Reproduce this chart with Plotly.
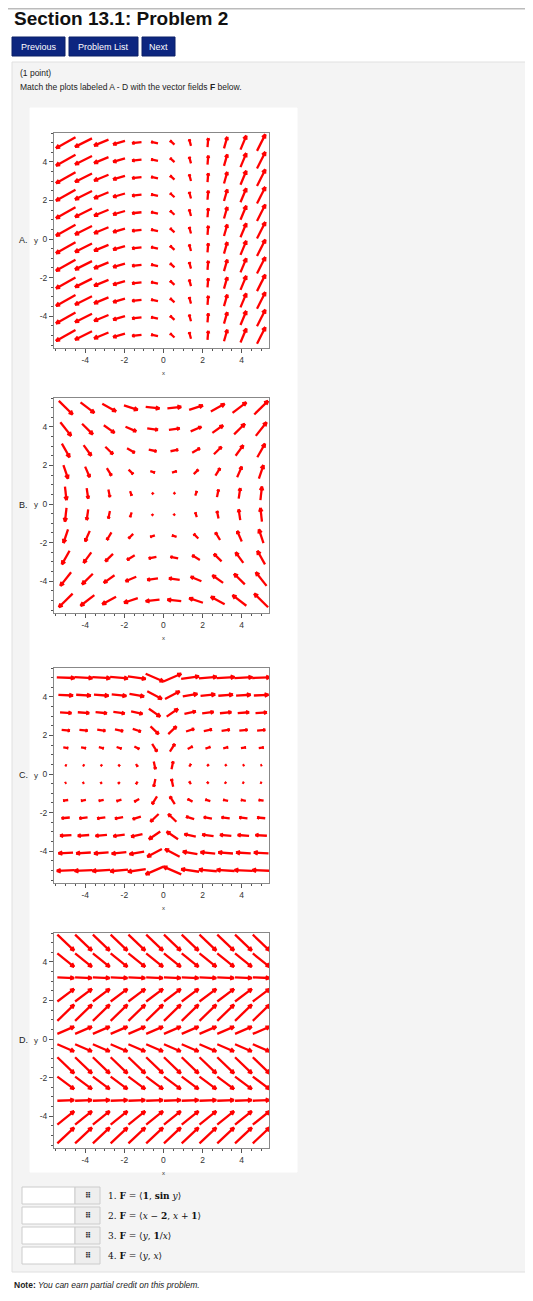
import numpy as np
import plotly.graph_objects as go

OFF = 8
W, H = 533 - OFF, 1301 - 2 * OFF
panel_labels = ["A.", "B.", "C.", "D."]
grid_counts = [12, 10, 12, 12]
max_lens = [1.15, 1.0, 1.0, 1.2]
tick_vals = [-4, -2, 0, 2, 4]
tick_text = ["-4", "-2", "0", "2", "4"]
answer_html = ["1. <b>F</b> = ⟨<b>1</b>, <b>sin</b> <i>y</i>⟩",
               "2. <b>F</b> = ⟨<i>x</i> − <b>2</b>, <i>x</i> + <b>1</b>⟩",
               "3. <b>F</b> = ⟨<i>y</i>, <b>1</b>/<i>x</i>⟩",
               "4. <b>F</b> = ⟨<i>y</i>, <i>x</i>⟩"]

def fA(x, y): return x - 2, x + 1
def fB(x, y): return y, x
def fC(x, y): return y, 1 / x
def fD(x, y): return np.ones_like(x), np.sin(y)
fields = [fA, fB, fC, fD]

frame_tops = [133, 398, 668, 933]
frame_h = 215
fx0, fx1 = 54, 269

def px(x): return (x - OFF) / W
def py(y): return 1 - (y - OFF) / H

fig = go.Figure()
shapes, ann = [], []
FONT = "Liberation Sans, Arial"

def text(x, y, t, size, color="#222", family=FONT, xanchor="left"):
    ann.append(dict(x=px(x), y=py(y), xref="paper", yref="paper", text=t, showarrow=False,
                    xanchor=xanchor, yanchor="middle",
                    font=dict(size=size, family=family, color=color)))

for i in range(4):
    n = grid_counts[i]
    g = np.linspace(-5, 5, n)
    X, Y = np.meshgrid(g, g)
    U, V = fields[i](X, Y)
    M = np.hypot(U, V)
    s = max_lens[i] / M.max()
    xs, ys = [], []
    for x, y, u, v in zip(X.ravel(), Y.ravel(), U.ravel(), V.ravel()):
        u, v = u * s, v * s
        L = np.hypot(u, v)
        x0, y0, x1, y1 = x - u / 2, y - v / 2, x + u / 2, y + v / 2
        xs += [x0, x1, None]; ys += [y0, y1, None]
        if L > 0.02:
            ang = np.arctan2(v, u)
            hl = min(0.22, 0.3 * L)
            for d in (0.4, -0.4):
                xs += [x1, x1 - hl * np.cos(ang + d), None]
                ys += [y1, y1 - hl * np.sin(ang + d), None]
    ax = "" if i == 0 else str(i + 1)
    fig.add_trace(go.Scatter(x=xs, y=ys, mode="lines", line=dict(color="#ff0000", width=2.3),
                             xaxis="x" + ax, yaxis="y" + ax, hoverinfo="skip", showlegend=False))
    top = frame_tops[i]
    common = dict(showgrid=False, zeroline=False, showline=True, linecolor="#888", mirror=True,
                  ticks="outside", ticklen=4, tickcolor="#555", tickvals=tick_vals, ticktext=tick_text,
                  tickfont=dict(size=8.5, family=FONT, color="#333"),
                  minor=dict(dtick=0.5, ticks="outside", ticklen=2, tickcolor="#555"))
    fig.update_layout(**{
        "xaxis" + ax: dict(common, domain=[px(fx0), px(fx1)], range=[-5.6, 5.4],
                           anchor="y" + ax),
        "yaxis" + ax: dict(common, domain=[py(top + frame_h), py(top)], range=[-5.65, 5.5],
                           anchor="x" + ax),
    })
    text(40, top + 107, "y", 8, "#333", xanchor="right")
    text(163, top + 240, "x", 6, "#333", xanchor="center")
    text(17, top + 107, panel_labels[i], 9, "#222")

def rect(x0, y0, x1, y1, fill, line=None, lw=1):
    shapes.append(dict(type="rect", xref="paper", yref="paper", x0=px(x0), x1=px(x1),
                       y0=py(y1), y1=py(y0), fillcolor=fill,
                       line=dict(color=line or fill, width=lw), layer="below"))

rect(OFF, OFF, 533, OFF + 1, "#bbbbbb")
rect(12, 62, 540, 1272, "#f4f4f4", "#e0e0e0")
rect(30, 108, 297, 1172, "#ffffff")
for (x0, x1, t) in [(12, 65, "Previous"), (69, 138, "Problem List"), (142, 175, "Next")]:
    rect(x0, 37, x1, 56, "#0d2680", "#0a1f66")
    text((x0 + x1) / 2, 46.5, t, 9, "white", xanchor="center")
text(12, 19, "<b>Section 13.1: Problem 2</b>", 19, "#111")
text(18, 73, "(1 point)", 8.5)
text(18, 87, "Match the plots labeled A - D with the vector fields <b>F</b> below.", 8.5)
for k in range(4):
    y0 = 1187 + 20 * k
    rect(22, y0, 75, y0 + 17, "#ffffff", "#cccccc")
    rect(75, y0, 100, y0 + 17, "#eeeeee", "#cccccc")
    text(87.5, y0 + 8.5, "<b>⠿</b>", 8, "#333", "DejaVu Sans", xanchor="center")
    text(106, y0 + 8.5, answer_html[k], 9, "#111", "DejaVu Serif")
text(12, 1285, "<b>Note:</b> <i>You can earn partial credit on this problem.</i>", 8.5)

fig.update_layout(width=W, height=H, autosize=False, margin=dict(l=0, r=0, t=0, b=0),
                  paper_bgcolor="white", plot_bgcolor="white", shapes=shapes, annotations=ann)
fig.write_html("out.html", config={"displayModeBar": False})
